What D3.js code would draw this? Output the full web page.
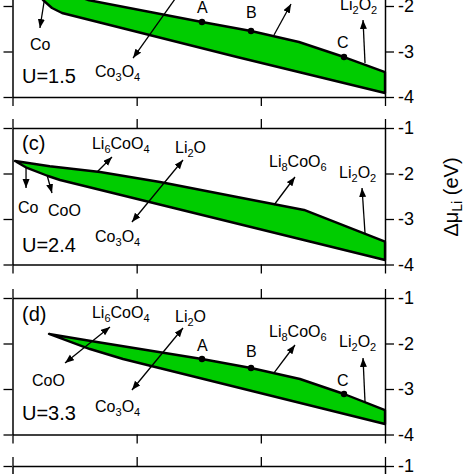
<!DOCTYPE html>
<html><head><meta charset="utf-8">
<script src="https://cdn.jsdelivr.net/npm/d3@7"></script>
<style>html,body{margin:0;padding:0;background:#fff;overflow:hidden}text{font-family:"Liberation Sans",Arial,sans-serif}</style>
</head><body>
<svg id="c" width="474" height="474"></svg>
<script>
// ---- data (x in chart units 0..3, y = Δμ_Li in eV) ----
const xTicks = [0, 1, 2, 3];
const yTicks = [-1, -2, -3, -4];
const yTickLabels = ["-1", "-2", "-3", "-4"];
const panelIds = ["b", "c", "d", "e"];
const panelU = ["1.5", "2.4", "3.3", ""];

const upperB = [[0.06,-1.32],[0.608,-1.868],[1.526,-2.352],[1.921,-2.549],[2.307,-2.791],[2.670,-3.121],[3.0,-3.451]];
const lowerB = [[0.06,-1.32],[0.141,-1.538],[0.246,-1.868],[0.318,-2.044],[0.399,-2.154],[1.808,-3.121],[3.0,-3.912]];
const upperC = [[0.02,-1.725],[0.30,-1.84],[0.705,-1.967],[1.188,-2.187],[1.808,-2.516],[2.348,-2.802],[3.0,-3.499]];
const lowerC = [[0.02,-1.725],[0.117,-1.879],[0.286,-2.055],[0.383,-2.143],[3.0,-3.901]];
const upperD = [[0.294,-1.791],[0.439,-1.857],[0.68,-1.967],[1.526,-2.341],[1.921,-2.538],[2.315,-2.780],[2.670,-3.110],[3.0,-3.462]];
const lowerD = [[0.294,-1.791],[0.624,-2.121],[0.890,-2.341],[3.0,-3.769]];

// marked points A, B, C (same in b and d)
const pointNames = ["A", "B", "C"];
const pointX = [1.526, 1.921, 2.670];
const pointYB = [-2.352, -2.549, -3.121];
const pointYD = [-2.341, -2.538, -3.110];

// arrows: [x1,y1,x2,y2, doubleHeaded]
const arrowsB = [[0.254,-1.912,0.221,-2.484,0],[1.389,-1.538,0.971,-3.143,1],[2.106,-2.637,2.243,-1.956,0],[2.839,-3.253,2.823,-2.308,0]];
const arrowsC = [[0.109,-1.857,0.109,-2.319,0],[0.278,-2.033,0.318,-2.429,0],[0.681,-1.967,0.801,-1.637,0],[1.373,-1.703,0.962,-3.066,1],[2.106,-2.692,2.275,-2.077,0],[2.839,-3.308,2.815,-2.319,0]];
const arrowsD = [[0.785,-1.637,0.423,-2.429,1],[1.373,-1.659,0.962,-3.022,1],[2.106,-2.648,2.275,-2.033,0],[2.839,-3.286,2.823,-2.319,0]];

// phase labels: [text, x, y]  ("_" marks a one-character subscript)
const labelsB = [["Li_2O_2",2.638,-2.088],["Co",0.141,-2.967],["Co_3O_4",0.665,-3.560]];
const labelsC = [["(c)",0.0765,-1.484],["Li_6CoO_4",0.640,-1.462],["Li_2O",1.309,-1.549],["Li_8CoO_6",2.066,-1.857],["Li_2O_2",2.630,-2.099],["Co",0.044,-2.868],["CoO",0.286,-2.934],["Co_3O_4",0.665,-3.505]];
const labelsD = [["(d)",0.0765,-1.505],["Li_6CoO_4",0.640,-1.440],["Li_2O",1.309,-1.527],["Li_8CoO_6",2.066,-1.857],["Li_2O_2",2.630,-2.077],["CoO",0.157,-2.934],["Co_3O_4",0.665,-3.505]];
const pointLabelYB = [-2.154, -2.264, -2.923];
const pointLabelYD = [-2.165, -2.297, -2.934];
const pointLabelX = [1.486, 1.880, 2.613];
const uLabelX = 0.0765;
const uLabelY = [-3.692, -3.725, -3.681, -3.7];

// ---- drawing ----
const svg = d3.select("#c");
const left = 12.5, right = 385, panelH = 136.5;
const tops = [-39.5, 128, 298, 466];
const x = d3.scaleLinear().domain([0, 3]).range([left, right]);
const green = "#00cc00";

const defs = svg.append("defs");
defs.append("marker").attr("id","ah").attr("markerUnits","userSpaceOnUse")
  .attr("markerWidth",10).attr("markerHeight",8).attr("refX",9).attr("refY",3.5)
  .attr("orient","auto-start-reverse")
  .append("path").attr("d","M0,0L9,3.5L0,7Z").attr("fill","#000");

function richText(g, str, px, py, size, subSize) {
  const t = g.append("text").attr("x", px).attr("y", py).attr("font-size", size).attr("fill", "#000");
  // split into runs of [text, isSub]
  const runs = [];
  let i = 0;
  while (i < str.length) {
    if (str[i] === "_") { runs.push([str[i+1], true]); i += 2; }
    else { let j = i; while (j < str.length && str[j] !== "_") j++; runs.push([str.slice(i, j), false]); i = j; }
  }
  let shifted = false;
  runs.forEach(([s, sub]) => {
    const ts = t.append("tspan").text(s);
    if (sub) { ts.attr("font-size", subSize); if (!shifted) { ts.attr("dy", 4); shifted = true; } }
    else if (shifted) { ts.attr("dy", -4); shifted = false; }
  });
  return t;
}

const panelData = [
  {up: upperB, lo: lowerB, arrows: arrowsB, labels: labelsB, pts: pointYB, ptl: pointLabelYB},
  {up: upperC, lo: lowerC, arrows: arrowsC, labels: labelsC, pts: null, ptl: null},
  {up: upperD, lo: lowerD, arrows: arrowsD, labels: labelsD, pts: pointYD, ptl: pointLabelYD},
  {up: null, lo: null, arrows: [], labels: [], pts: null, ptl: null}
];

panelData.forEach((p, k) => {
  const top = tops[k];
  const y = d3.scaleLinear().domain([-1, -4]).range([top, top + panelH]);
  const g = svg.append("g");

  if (p.up) {
    const poly = p.up.concat(p.lo.slice().reverse());
    const line = d3.line().x(d => x(d[0])).y(d => y(d[1]));
    g.append("path").attr("d", line(poly) + "Z")
      .attr("fill", green).attr("stroke", "#000").attr("stroke-width", 2.4).attr("stroke-linejoin", "round");
  }

  // axes (frame with outward ticks)
  const axes = [
    [d3.axisLeft(y).tickValues(yTicks).tickFormat(""), `translate(${left},0)`],
    [d3.axisRight(y).tickValues(yTicks).tickFormat(""), `translate(${right},0)`],
    [d3.axisTop(x).tickValues(xTicks).tickFormat(""), `translate(0,${top})`],
    [d3.axisBottom(x).tickValues(xTicks).tickFormat(""), `translate(0,${top + panelH})`]
  ];
  axes.forEach(([ax, tr]) => {
    const a = g.append("g").attr("transform", tr).call(ax.tickSize(9).tickSizeOuter(0));
    a.select(".domain").attr("stroke", "#000").attr("stroke-width", 1.5);
    a.selectAll(".tick line").attr("stroke", "#000").attr("stroke-width", 1.3);
    a.selectAll(".tick text").remove();
  });
  yTicks.forEach((v, i) => {
    const yy = y(v);
    if (yy < -5) return; // outside the picture
    g.append("text").attr("x", right + 13).attr("y", yy).attr("dy", "0.36em")
      .attr("font-size", 18).attr("fill", "#000").text(yTickLabels[i]);
  });

  // arrows
  p.arrows.forEach(a => {
    const l = g.append("line").attr("x1", x(a[0])).attr("y1", y(a[1])).attr("x2", x(a[2])).attr("y2", y(a[3]))
      .attr("stroke", "#000").attr("stroke-width", 1.3).attr("marker-end", "url(#ah)");
    if (a[4]) l.attr("marker-start", "url(#ah)");
  });

  // marked points
  if (p.pts) {
    p.pts.forEach((v, i) => {
      g.append("circle").attr("cx", x(pointX[i])).attr("cy", y(v)).attr("r", 3.2).attr("fill", "#000");
      g.append("text").attr("x", x(pointLabelX[i])).attr("y", y(p.ptl[i])).attr("font-size", 16).text(pointNames[i]);
    });
  }

  // labels
  p.labels.forEach(l => {
    const isPanel = l[0][0] === "(";
    richText(g, l[0], x(l[1]), y(l[2]), isPanel ? 20 : 16, 11);
  });
  if (panelU[k]) {
    g.append("text").attr("x", x(uLabelX)).attr("y", y(uLabelY[k])).attr("font-size", 20).text("U=" + panelU[k]);
  }
});

// y-axis title
const yt = svg.append("text").attr("transform", "translate(458,197) rotate(-90)")
  .attr("text-anchor", "middle").attr("font-size", 20).attr("fill", "#000");
yt.append("tspan").text("\u0394\u03BC");
yt.append("tspan").attr("font-size", 14).attr("dy", 4).text("Li");
yt.append("tspan").attr("dy", -4).text(" (eV)");
</script>
</body></html>
